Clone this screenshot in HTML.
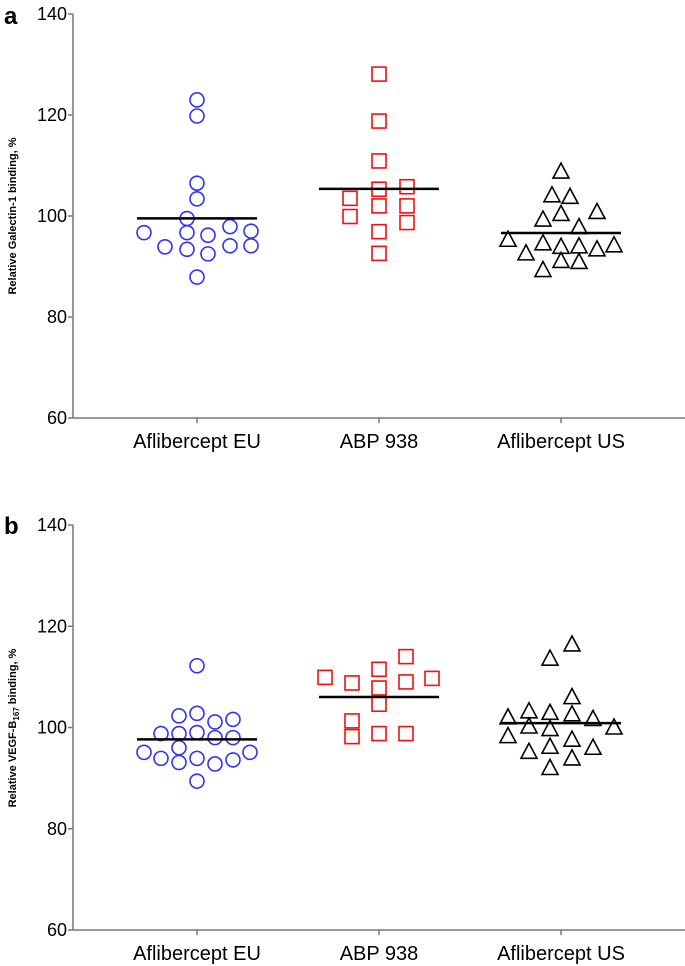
<!DOCTYPE html>
<html><head><meta charset="utf-8"><style>
body{margin:0;background:#fff;}
svg{display:block;font-family:"Liberation Sans",Arial,sans-serif;}
</style></head><body>
<svg id="chart" width="685" height="966" viewBox="0 0 685 966" xmlns="http://www.w3.org/2000/svg">
<text x="4" y="24" font-size="24" font-weight="bold">a</text>
<text x="4" y="534" font-size="24" font-weight="bold">b</text>
<text transform="translate(16,216) rotate(-90)" text-anchor="middle" font-size="11" font-weight="bold">Relative Galectin-1 binding, %</text>
<text transform="translate(16,728) rotate(-90)" text-anchor="middle" font-size="11" font-weight="bold">Relative VEGF-B<tspan font-size="8" dy="3">167</tspan><tspan dy="-3"> binding, %</tspan></text>
</svg>
<script>
const categories = ["Aflibercept EU","ABP 938","Aflibercept US"];
const yTicks = [60,80,100,120,140];
const aEU = [123.0,119.8,106.5,103.4,99.5,96.7,96.7,96.2,97.9,97.0,93.9,93.4,92.5,94.1,94.1,87.9];
const aABP = [128.1,118.8,110.9,105.3,105.8,103.5,102.0,102.0,99.9,96.9,98.7,92.6];
const aUS = [108.7,104.0,103.7,100.3,99.2,100.7,97.7,95.2,94.5,93.8,93.9,93.3,94.1,92.5,91.0,90.8,89.2];
const bEU = [112.2,102.3,102.8,101.1,101.6,98.8,98.8,99.0,98.0,98.0,96.0,95.1,93.9,93.9,93.6,95.1,93.1,92.8,89.4];
const bABP = [109.9,108.8,111.5,114.0,109.0,109.7,107.8,104.6,101.3,98.2,98.8,98.8];
const bUS = [116.3,113.5,105.9,101.9,103.1,102.8,102.5,101.6,99.9,100.1,99.6,98.2,97.5,95.1,96.1,95.9,93.8,91.9];
// horizontal jitter (layout, px)
const jaEU=[0,0,0,0,-10,-53,-10,11,33,54,-32,-10,11,33,54,0];
const jaABP=[0,0,0,0,28,-29,0,28,-29,0,28,0];
const jaUS=[0,-9,9,0,-18,36,18,-53,-18,0,18,36,53,-35,0,18,-18];
const jbEU=[0,-18,0,18,36,-36,-18,0,18,36,-18,-53,-36,0,36,53,-18,18,0];
const jbABP=[-54,-27,0,27,27,53,0,0,-27,-27,0,27];
const jbUS=[11,-11,11,-53,-32,-11,11,32,53,-32,-11,-53,11,-32,-11,32,11,-11];

const NS="http://www.w3.org/2000/svg";
const svg=document.getElementById('chart');
function mk(t,a){const e=document.createElementNS(NS,t);for(const k in a)e.setAttribute(k,a[k]);svg.appendChild(e);return e;}
const catX=[197,379,561];
function xScale(i){return catX[i];}
function drawPanel(top,bottom,sets,jit,p){
  const y=v=>bottom-(v-60)/80*(bottom-top);
  const ax=mk('line',{x1:73,y1:top,x2:73,y2:bottom,stroke:'#777','stroke-width':1.5});
  
  const xx=mk('line',{x1:73,y1:bottom,x2:685,y2:bottom,stroke:'#777','stroke-width':1.5});
  
  yTicks.forEach(t=>{
    const tk=mk('line',{x1:68,y1:y(t),x2:73,y2:y(t),stroke:'#777','stroke-width':1.5});
    
    const tl=mk('text',{x:67,y:y(t)+6,'text-anchor':'end','font-size':18});
    
    tl.textContent=t;
  });
  categories.forEach((c,i)=>{
    const tk=mk('line',{x1:xScale(i),y1:bottom,x2:xScale(i),y2:bottom+5,stroke:'#777','stroke-width':1.5});
    
    const tl=mk('text',{x:xScale(i),y:bottom+30,'text-anchor':'middle','font-size':20});
    
    tl.textContent=c;
  });
  const cols=['#3333ee','#ee1111','#000'];
  sets.forEach((vals,i)=>{
    vals.forEach((v,k)=>{
      const cx=xScale(i)+jit[i][k], cy=y(v);let e;
      if(i===0) e=mk('circle',{cx:cx,cy:cy,r:7,fill:'none',stroke:cols[0],'stroke-width':1.6});
      else if(i===1) e=mk('rect',{x:cx-7,y:cy-7,width:14,height:14,fill:'none',stroke:cols[1],'stroke-width':1.6});
      else e=mk('polygon',{points:`${cx},${cy-9} ${cx-8},${cy+6} ${cx+8},${cy+6}`,fill:'none',stroke:cols[2],'stroke-width':1.6});
      
      
    });
    const m=vals.reduce((a,b)=>a+b,0)/vals.length;
    const ml=mk('line',{x1:xScale(i)-60,y1:y(m),x2:xScale(i)+60,y2:y(m),stroke:'#000','stroke-width':2.5});
    
    
  });
}
drawPanel(14,418,[aEU,aABP,aUS],[jaEU,jaABP,jaUS],'a');
drawPanel(525,930,[bEU,bABP,bUS],[jbEU,jbABP,jbUS],'b');
</script>
</body></html>
